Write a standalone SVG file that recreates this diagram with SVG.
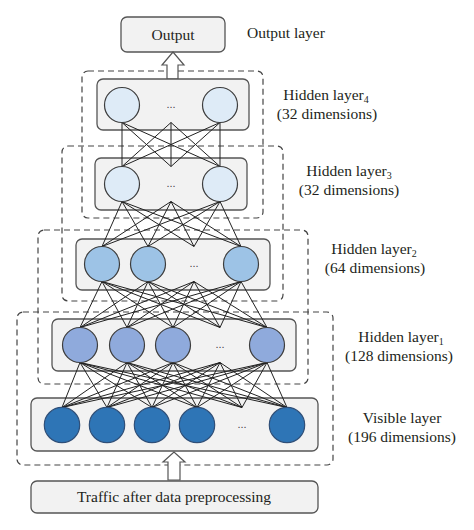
<svg xmlns="http://www.w3.org/2000/svg" width="474" height="530" viewBox="0 0 474 530">
<style>
text{font-family:"Liberation Serif","Times New Roman",serif;fill:#231f20;font-size:15.5px}
.lab{text-anchor:middle}
.sub{font-size:10px}
.dash{fill:none;stroke:#444;stroke-width:1.2;stroke-dasharray:6 4}
.box{fill:#f2f2f2;stroke:#555;stroke-width:1.3}
.arrow{fill:#fff;stroke:#555;stroke-width:1.2;stroke-linejoin:miter}
.c{stroke:#3d3d3d;stroke-width:1.2}
.l4{fill:#deebf7}
.l2{fill:#9dc3e6}
.l1{fill:#8faadc}
.lv{fill:#2e75b6;stroke:#2f4f78}
.dots{font-family:"Liberation Sans",Arial,sans-serif;font-size:11px;text-anchor:middle;fill:#444}
#connectors line{stroke:#222;stroke-width:1}
</style>

<g id="rbm-boxes">
<rect id="rbm4" class="dash" x="82" y="71" width="181" height="147" rx="6"/>
<rect id="rbm3" class="dash" x="62" y="146" width="221" height="155" rx="6"/>
<rect id="rbm2" class="dash" x="38" y="230" width="270" height="154" rx="6"/>
<rect id="rbm1" class="dash" x="17" y="312" width="316" height="153" rx="6"/>
</g>

<g id="output">
<rect class="box" x="121" y="17" width="104" height="35" rx="6"/>
<text class="lab" x="173" y="40">Output</text>
</g>
<text x="247" y="38">Output layer</text>

<g id="arrow-top"><polygon class="arrow" points="167,79 167,65 162,65 173,52 184,65 178,65 178,79"/></g>
<g id="arrow-bottom"><polygon class="arrow" points="168,480 168,462 163,462 174,452 185,462 180,462 180,480"/></g>

<g id="traffic">
<rect class="box" x="31" y="481" width="287" height="32" rx="6"/>
<text class="lab" x="174" y="502">Traffic after data preprocessing</text>
</g>

<rect id="box-h4" class="box" x="97" y="79" width="152" height="51" rx="6"/>
<rect id="box-h3" class="box" x="95" y="158" width="152" height="52" rx="6"/>
<rect id="box-h2" class="box" x="76" y="239" width="194" height="51" rx="6"/>
<rect id="box-h1" class="box" x="52" y="319" width="244" height="52" rx="6"/>
<rect id="box-v" class="box" x="31" y="398" width="287" height="53" rx="6"/>

<g id="connectors">
<line x1="122" y1="122.5" x2="122" y2="166.5"/><line x1="122" y1="122.5" x2="171" y2="166.5"/><line x1="122" y1="122.5" x2="220" y2="166.5"/>
<line x1="171" y1="122.5" x2="122" y2="166.5"/><line x1="171" y1="122.5" x2="171" y2="166.5"/><line x1="171" y1="122.5" x2="220" y2="166.5"/>
<line x1="220" y1="122.5" x2="122" y2="166.5"/><line x1="220" y1="122.5" x2="171" y2="166.5"/><line x1="220" y1="122.5" x2="220" y2="166.5"/>

<line x1="122" y1="201.5" x2="102" y2="246.5"/><line x1="122" y1="201.5" x2="148" y2="246.5"/><line x1="122" y1="201.5" x2="194" y2="246.5"/><line x1="122" y1="201.5" x2="241" y2="246.5"/>
<line x1="171" y1="201.5" x2="102" y2="246.5"/><line x1="171" y1="201.5" x2="148" y2="246.5"/><line x1="171" y1="201.5" x2="194" y2="246.5"/><line x1="171" y1="201.5" x2="241" y2="246.5"/>
<line x1="220" y1="201.5" x2="102" y2="246.5"/><line x1="220" y1="201.5" x2="148" y2="246.5"/><line x1="220" y1="201.5" x2="194" y2="246.5"/><line x1="220" y1="201.5" x2="241" y2="246.5"/>

<line x1="102" y1="281.5" x2="80" y2="327.5"/><line x1="102" y1="281.5" x2="127" y2="327.5"/><line x1="102" y1="281.5" x2="173" y2="327.5"/><line x1="102" y1="281.5" x2="220" y2="327.5"/><line x1="102" y1="281.5" x2="267" y2="327.5"/>
<line x1="148" y1="281.5" x2="80" y2="327.5"/><line x1="148" y1="281.5" x2="127" y2="327.5"/><line x1="148" y1="281.5" x2="173" y2="327.5"/><line x1="148" y1="281.5" x2="220" y2="327.5"/><line x1="148" y1="281.5" x2="267" y2="327.5"/>
<line x1="194" y1="281.5" x2="80" y2="327.5"/><line x1="194" y1="281.5" x2="127" y2="327.5"/><line x1="194" y1="281.5" x2="173" y2="327.5"/><line x1="194" y1="281.5" x2="220" y2="327.5"/><line x1="194" y1="281.5" x2="267" y2="327.5"/>
<line x1="241" y1="281.5" x2="80" y2="327.5"/><line x1="241" y1="281.5" x2="127" y2="327.5"/><line x1="241" y1="281.5" x2="173" y2="327.5"/><line x1="241" y1="281.5" x2="220" y2="327.5"/><line x1="241" y1="281.5" x2="267" y2="327.5"/>

<line x1="80" y1="362.5" x2="62" y2="407.5"/><line x1="80" y1="362.5" x2="107" y2="407.5"/><line x1="80" y1="362.5" x2="152" y2="407.5"/><line x1="80" y1="362.5" x2="197" y2="407.5"/><line x1="80" y1="362.5" x2="242" y2="407.5"/><line x1="80" y1="362.5" x2="287" y2="407.5"/>
<line x1="127" y1="362.5" x2="62" y2="407.5"/><line x1="127" y1="362.5" x2="107" y2="407.5"/><line x1="127" y1="362.5" x2="152" y2="407.5"/><line x1="127" y1="362.5" x2="197" y2="407.5"/><line x1="127" y1="362.5" x2="242" y2="407.5"/><line x1="127" y1="362.5" x2="287" y2="407.5"/>
<line x1="173" y1="362.5" x2="62" y2="407.5"/><line x1="173" y1="362.5" x2="107" y2="407.5"/><line x1="173" y1="362.5" x2="152" y2="407.5"/><line x1="173" y1="362.5" x2="197" y2="407.5"/><line x1="173" y1="362.5" x2="242" y2="407.5"/><line x1="173" y1="362.5" x2="287" y2="407.5"/>
<line x1="220" y1="362.5" x2="62" y2="407.5"/><line x1="220" y1="362.5" x2="107" y2="407.5"/><line x1="220" y1="362.5" x2="152" y2="407.5"/><line x1="220" y1="362.5" x2="197" y2="407.5"/><line x1="220" y1="362.5" x2="242" y2="407.5"/><line x1="220" y1="362.5" x2="287" y2="407.5"/>
<line x1="267" y1="362.5" x2="62" y2="407.5"/><line x1="267" y1="362.5" x2="107" y2="407.5"/><line x1="267" y1="362.5" x2="152" y2="407.5"/><line x1="267" y1="362.5" x2="197" y2="407.5"/><line x1="267" y1="362.5" x2="242" y2="407.5"/><line x1="267" y1="362.5" x2="287" y2="407.5"/>
</g>

<g id="hidden4">
<circle class="c l4" cx="122" cy="105" r="17.5"/>
<text class="dots" x="171" y="108">...</text>
<circle class="c l4" cx="220" cy="105" r="17.5"/>
</g>
<g id="hidden3">
<circle class="c l4" cx="122" cy="184" r="17.5"/>
<text class="dots" x="171" y="187">...</text>
<circle class="c l4" cx="220" cy="184" r="17.5"/>
</g>
<g id="hidden2">
<circle class="c l2" cx="102" cy="264" r="17.5"/>
<circle class="c l2" cx="148" cy="264" r="17.5"/>
<text class="dots" x="194" y="267">...</text>
<circle class="c l2" cx="241" cy="264" r="17.5"/>
</g>
<g id="hidden1">
<circle class="c l1" cx="80" cy="345" r="17.5"/>
<circle class="c l1" cx="127" cy="345" r="17.5"/>
<circle class="c l1" cx="173" cy="345" r="17.5"/>
<text class="dots" x="220" y="348">...</text>
<circle class="c l1" cx="267" cy="345" r="17.5"/>
</g>
<g id="visible">
<circle class="c lv" cx="62" cy="425" r="17.7"/>
<circle class="c lv" cx="107" cy="425" r="17.7"/>
<circle class="c lv" cx="152" cy="425" r="17.7"/>
<circle class="c lv" cx="197" cy="425" r="17.7"/>
<text class="dots" x="242" y="428">...</text>
<circle class="c lv" cx="287" cy="425" r="17.7"/>
</g>

<g id="labels">
<text class="lab" x="326" y="100">Hidden layer<tspan class="sub" dy="3">4</tspan></text>
<text class="lab" x="327" y="119">(32 dimensions)</text>
<text class="lab" x="349" y="176">Hidden layer<tspan class="sub" dy="3">3</tspan></text>
<text class="lab" x="349" y="195">(32 dimensions)</text>
<text class="lab" x="374" y="254">Hidden layer<tspan class="sub" dy="3">2</tspan></text>
<text class="lab" x="375" y="273">(64 dimensions)</text>
<text class="lab" x="401" y="342">Hidden layer<tspan class="sub" dy="3">1</tspan></text>
<text class="lab" x="399" y="361">(128 dimensions)</text>
<text class="lab" x="402" y="423">Visible layer</text>
<text class="lab" x="402" y="442">(196 dimensions)</text>
</g>
</svg>
